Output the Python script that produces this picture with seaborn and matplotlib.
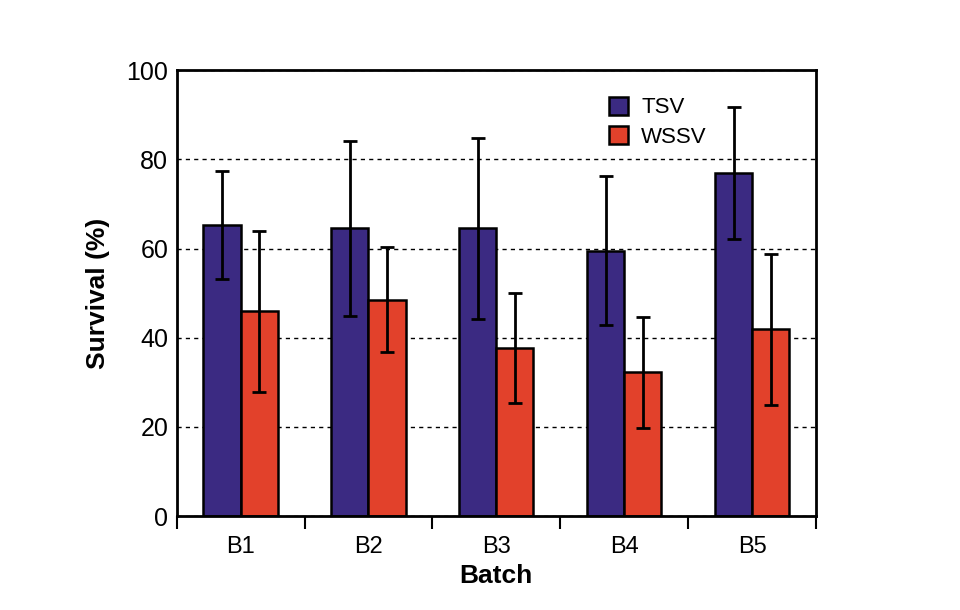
import numpy as np
import pandas as pd
import matplotlib
matplotlib.use("Agg")
import matplotlib.pyplot as plt
import seaborn as sns

# data
batches = ["B1", "B2", "B3", "B4", "B5"]
tsv_mean = [65.3, 64.5, 64.5, 59.5, 77.0]
tsv_err = [12.1, 19.6, 20.3, 16.7, 14.8]
wssv_mean = [45.9, 48.5, 37.7, 32.2, 41.9]
wssv_err = [18.0, 11.8, 12.4, 12.5, 16.9]
y_ticks = [0, 20, 40, 60, 80, 100]

colors = {"TSV": "#3b2a82", "WSSV": "#e2412b"}

df = pd.DataFrame({
    "Batch": batches * 2,
    "Survival": tsv_mean + wssv_mean,
    "Virus": ["TSV"] * len(batches) + ["WSSV"] * len(batches),
})

sns.set_style("white")
plt.rcParams["font.family"] = ["Liberation Sans", "DejaVu Sans"]
plt.rcParams["text.color"] = "black"
plt.rcParams["axes.labelcolor"] = "black"
plt.rcParams["xtick.color"] = "black"
plt.rcParams["ytick.color"] = "black"

fig = plt.figure(figsize=(9.6, 6.1), dpi=100)
ax = fig.add_axes([0.184, 0.154, 0.666, 0.731])

sns.barplot(
    data=df, x="Batch", y="Survival", hue="Virus",
    palette=colors, width=0.58, edgecolor="black", linewidth=1.8,
    errorbar=None, saturation=1, ax=ax, zorder=2,
)

# error bars on top of each bar
for cont, errs in zip(ax.containers, [tsv_err, wssv_err]):
    xs = [p.get_x() + p.get_width() / 2 for p in cont.patches]
    hs = [p.get_height() for p in cont.patches]
    ax.errorbar(xs, hs, yerr=errs, fmt="none", ecolor="black",
                elinewidth=2, capsize=5, capthick=2, zorder=3)

ax.set_ylim(0, 100)
ax.set_xlim(-0.5, len(batches) - 0.5)
ax.set_yticks(y_ticks)
ax.yaxis.grid(True, linestyle=(0, (3, 3)), color="black", linewidth=1.0)
ax.xaxis.grid(False)
ax.set_axisbelow(True)

ax.set_xticks(np.arange(-0.5, len(batches), 1.0), minor=True)
ax.tick_params(axis="x", which="major", length=0, labelsize=17, pad=14)
ax.tick_params(axis="x", which="minor", length=9, width=1.5, color="black",
               direction="out", bottom=True)
ax.tick_params(axis="y", length=0, labelsize=18, pad=6)

for s in ax.spines.values():
    s.set_visible(True)
    s.set_color("black")
    s.set_linewidth(2)

ax.set_xlabel("Batch", fontsize=19, fontweight="bold", labelpad=5)
ax.set_ylabel("Survival (%)", fontsize=19, fontweight="bold", labelpad=12)

handles, labels = ax.get_legend_handles_labels()
ax.legend(handles, labels, frameon=False, loc="upper left",
          bbox_to_anchor=(0.645, 0.985), fontsize=16,
          handlelength=0.85, handleheight=0.85, handletextpad=0.6,
          labelspacing=0.35)

fig.savefig("out.png", dpi=100)
